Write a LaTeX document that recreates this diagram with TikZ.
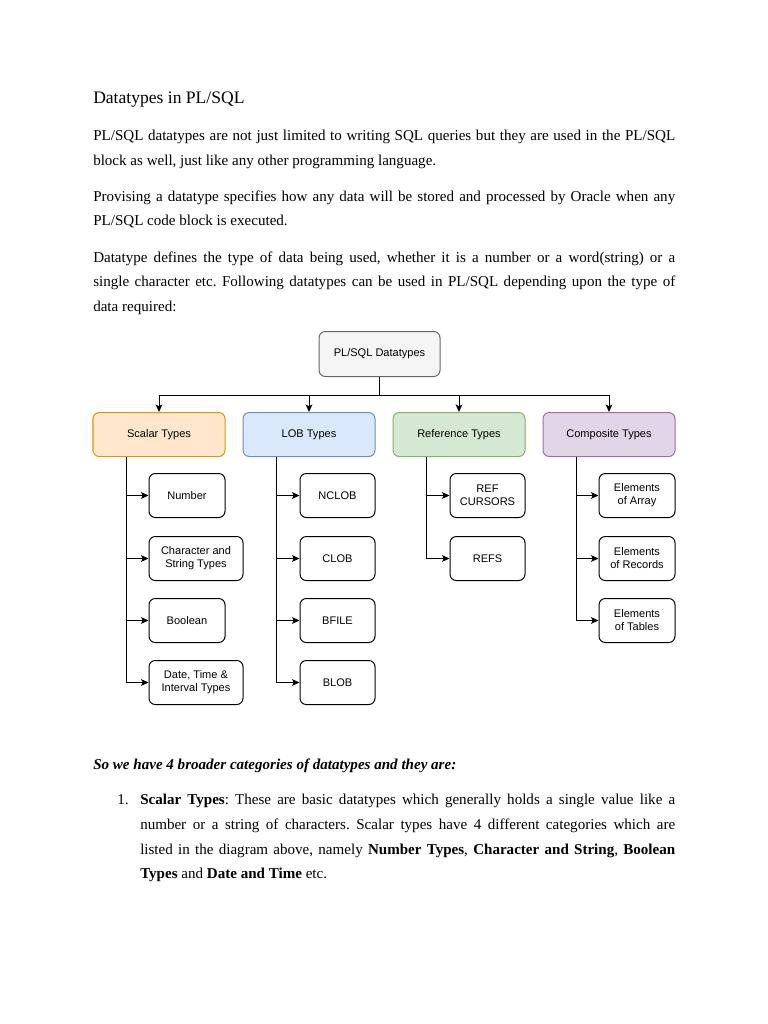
\documentclass[tikz,border=0pt]{standalone}
\usepackage{fontspec}
\setmainfont{Liberation Serif}
\newfontfamily\diagfont{Liberation Sans}
\usetikzlibrary{arrows.meta,calc}
\definecolor{rootfill}{HTML}{F5F5F5}
\definecolor{rootline}{HTML}{666666}
\definecolor{scfill}{HTML}{FFE6CC}
\definecolor{scline}{HTML}{D79B00}
\definecolor{lobfill}{HTML}{DAE8FC}
\definecolor{lobline}{HTML}{6C8EBF}
\definecolor{reffill}{HTML}{D5E8D4}
\definecolor{refline}{HTML}{82B366}
\definecolor{cofill}{HTML}{E1D5E7}
\definecolor{coline}{HTML}{9673A6}
\newlength\pxu
\setlength\pxu{0.796875pt}
\frenchspacing
\newcommand{\jline}[2]{\parbox[b]{#1\pxu}{\parfillskip=0pt\relax #2}}
\begin{document}
\begin{tikzpicture}[x=0.796875pt,y=-0.796875pt,
  txt/.style={anchor=base west, inner sep=0pt, font=\fontsize{12}{14}\selectfont},
  ttl/.style={anchor=base west, inner sep=0pt, font=\fontsize{14}{16}\selectfont},
  box/.style={draw, rounded corners=5pt, align=center, line width=0.8pt,
    font=\diagfont\fontsize{8.8}{10.4}\selectfont, inner sep=0pt, minimum height=44\pxu},
  leaf/.style={box, fill=white, minimum width=75\pxu},
  wleaf/.style={box, fill=white, minimum width=94\pxu},
  cat/.style={box, minimum width=132\pxu},
  arr/.style={-{Stealth[length=6pt,width=5.4pt,inset=1.4pt]}, line width=0.8pt, black},
]
\useasboundingbox[fill=white] (0,0) rectangle (768,1024);

% ---------- text above ----------
\node[ttl] (title) at (93,103) {Datatypes in PL/SQL};
\node[txt] (p1a) at (93,140.5) {\jline{582}{PL/SQL datatypes are not just limited to writing SQL queries but they are used in the PL/SQL}};
\node[txt] (p1b) at (93,165) {block as well, just like any other programming language.};
\node[txt] (p2a) at (93,201) {\jline{582}{Provising a datatype specifies how any data will be stored and processed by Oracle when any}};
\node[txt] (p2b) at (93,225.5) {PL/SQL code block is executed.};
\node[txt] (p3a) at (93,262) {\jline{582}{Datatype defines the type of data being used, whether it is a number or a word(string) or a}};
\node[txt] (p3b) at (93,286.5) {\jline{582}{single character etc. Following datatypes can be used in PL/SQL depending upon the type of}};
\node[txt] (p3c) at (93,311) {data required:};

% ---------- diagram ----------
\node[box, fill=rootfill, draw=rootline, minimum width=121\pxu, minimum height=45\pxu] (root) at (379.5,354) {PL/SQL Datatypes};

\node[cat, fill=scfill, draw=scline] (scalar) at (159,434.5) {Scalar Types};
\node[cat, fill=lobfill, draw=lobline] (lob) at (309,434.5) {LOB Types};
\node[cat, fill=reffill, draw=refline] (ref) at (459,434.5) {Reference Types};
\node[cat, fill=cofill, draw=coline] (comp) at (609,434.5) {Composite Types};

\node[leaf, minimum width=76\pxu] (number) at (187,495.5) {Number};
\node[wleaf] (charstr) at (196,558.5) {Character and\\String Types};
\node[leaf, minimum width=76\pxu] (boolean) at (187,620.5) {Boolean};
\node[wleaf] (datetime) at (196,682.5) {Date, Time \&\\Interval Types};

\node[leaf] (nclob) at (337.5,495.5) {NCLOB};
\node[leaf] (clob) at (337.5,558.5) {CLOB};
\node[leaf] (bfile) at (337.5,620.5) {BFILE};
\node[leaf] (blob) at (337.5,682.5) {BLOB};

\node[leaf] (refcur) at (487.5,495.5) {REF\\CURSORS};
\node[leaf] (refs) at (487.5,558.5) {REFS};

\node[leaf, minimum width=76\pxu] (elarr) at (637,495.5) {Elements\\of Array};
\node[leaf, minimum width=76\pxu] (elrec) at (637,558.5) {Elements\\of Records};
\node[leaf, minimum width=76\pxu] (eltab) at (637,620.5) {Elements\\of Tables};

% root to categories
\draw[arr] (root.south) -- ++(0,18) -| (scalar.north);
\draw[arr] (root.south) -- ++(0,18) -| (lob.north);
\draw[arr] (root.south) -- ++(0,18) -| (ref.north);
\draw[arr] (root.south) -- ++(0,18) -| (comp.north);

% trunks
\coordinate (sT) at ($(scalar.south west)+(34,0)$);
\coordinate (lT) at ($(lob.south west)+(34,0)$);
\coordinate (rT) at ($(ref.south west)+(34,0)$);
\coordinate (cT) at ($(comp.south west)+(34,0)$);

\draw[arr] (sT) |- (number.west);
\draw[arr] (sT) |- (charstr.west);
\draw[arr] (sT) |- (boolean.west);
\draw[arr] (sT) |- (datetime.west);

\draw[arr] (lT) |- (nclob.west);
\draw[arr] (lT) |- (clob.west);
\draw[arr] (lT) |- (bfile.west);
\draw[arr] (lT) |- (blob.west);

\draw[arr] (rT) |- (refcur.west);
\draw[arr] (rT) |- (refs.west);

\draw[arr] (cT) |- (elarr.west);
\draw[arr] (cT) |- (elrec.west);
\draw[arr] (cT) |- (eltab.west);

% ---------- text below ----------
\node[txt, font=\fontsize{12}{14}\selectfont\bfseries\itshape] (sub) at (93,769) {So we have 4 broader categories of datatypes and they are:};
\node[txt] (num1) at (117,804.5) {1.};
\node[txt] (l1a) at (140,804.5) {\jline{535}{\textbf{Scalar Types}: These are basic datatypes which generally holds a single value like a}};
\node[txt] (l1b) at (140,829) {\jline{535}{number or a string of characters. Scalar types have 4 different categories which are}};
\node[txt] (l1c) at (140,854) {\jline{535}{listed in the diagram above, namely \textbf{Number Types}, \textbf{Character and String}, \textbf{Boolean}}};
\node[txt] (l1d) at (140,878.5) {\textbf{Types} and \textbf{Date and Time} etc.};
\end{tikzpicture}
\end{document}
